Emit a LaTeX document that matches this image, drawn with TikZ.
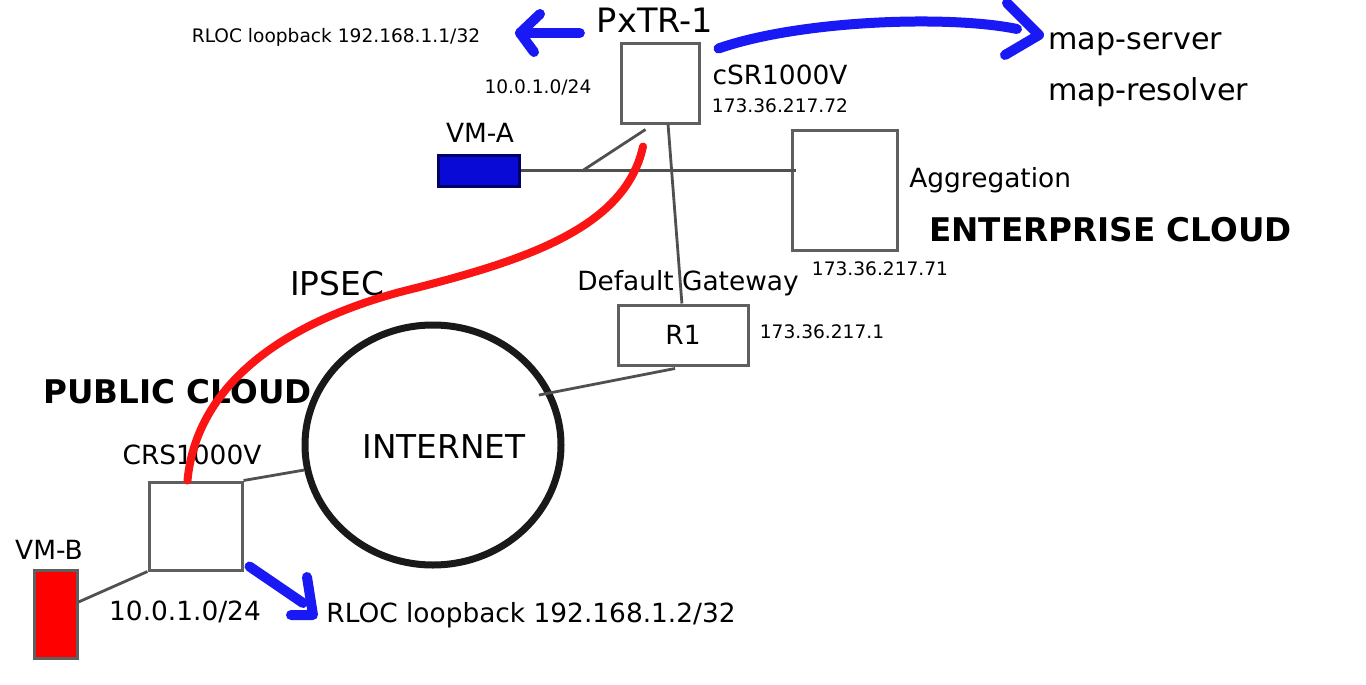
\documentclass[tikz,border=0pt]{standalone}
\usepackage{fontspec}
\setmainfont{DejaVu Sans}
\usetikzlibrary{shapes.geometric}

\definecolor{boxgray}{RGB}{95,95,95}
\definecolor{wiregray}{RGB}{80,80,80}
\definecolor{penblue}{RGB}{25,25,245}
\definecolor{penred}{RGB}{250,20,20}
\definecolor{vmablue}{RGB}{10,10,215}

\begin{document}
\begin{tikzpicture}[x=0.5pt, y=-0.5pt,
	box/.style={draw=boxgray, line width=1.5pt, inner sep=0pt},
	wire/.style={draw=wiregray, line width=1.4pt},
	bluepen/.style={draw=penblue, line width=5pt, line cap=round, line join=round},
	redpen/.style={draw=penred, line width=4pt, line cap=round},
	small/.style={font=\fontsize{9.3}{11}\selectfont},
	mid/.style={font=\fontsize{13.2}{15}\selectfont},
	big/.style={font=\fontsize{16.4}{19}\selectfont},
	heading/.style={font=\fontsize{16.3}{19}\selectfont\bfseries}]
	\useasboundingbox (0,0) rectangle (1366,685);

	% boxes
	\node[box, minimum width=39pt, minimum height=40pt] (pxtr) at (660,83) {};
	\node[box, fill=vmablue, draw=blue!40!black, minimum width=40.5pt, minimum height=15.5pt] (vma) at (478.5,170.5) {};
	\node[box, minimum width=52.5pt, minimum height=60pt] (agg) at (844.5,190) {};
	\node[box, mid, minimum width=65pt, minimum height=30pt] (r1) at (683,335) {R1};
	\node[box, minimum width=46.5pt, minimum height=44pt] (crs) at (195.5,526) {};
	\node[box, fill=red, minimum width=21.5pt, minimum height=44pt] (vmb) at (55.5,614) {};
	\node[ellipse, draw=black!90, line width=3.5pt, minimum width=128pt, minimum height=120pt] (inet) at (433,445) {};

	% labels
	\node[font=\fontsize{16.8}{19}\selectfont] (pxtrlbl) at (655,20) {PxTR-1};
	\node[small] (rloca) at (336,37) {RLOC loopback 192.168.1.1/32};
	\node[small] (neta) at (538,87) {10.0.1.0/24};
	\node[mid] (csrlbl) at (780,75) {cSR1000V};
	\foreach \n/\x/\y/\t in {ipc/780/106/173.36.217.72, ipagg/880/269/173.36.217.71, ipr/822/332/173.36.217.1} {
		\node[small] (\n) at (\x,\y) {\t};
	}
	\node[font=\fontsize{15.1}{18}\selectfont, anchor=west, inner sep=0pt] (mapsrv) at (1048,44) {map-server};
	\node[font=\fontsize{15.1}{18}\selectfont, anchor=west, inner sep=0pt] (mapres) at (1048,92) {map-resolver};
	\node[mid] (vmalbl) at (480,133) {VM-A};
	\node[mid, anchor=west, inner sep=0pt] (agglbl) at (909,180) {Aggregation};
	\node[heading, anchor=west, inner sep=0pt] (entcloud) at (929,230) {ENTERPRISE CLOUD};
	\node[mid] (dgw) at (688,283) {Default Gateway};
	\node[big] (inetlbl) at (444,447) {INTERNET};
	\node[heading, anchor=west, inner sep=0pt] (pubcloud) at (43,392) {PUBLIC CLOUD};
	\node[big] (ipsec) at (337,284) {IPSEC};
	\node[mid] (crslbl) at (192,455) {CRS1000V};
	\node[mid] (vmblbl) at (49,550) {VM-B};
	\node[mid] (netb) at (185,612) {10.0.1.0/24};
	\node[mid, anchor=west, inner sep=0pt] (rlocb) at (326,615) {RLOC loopback 192.168.1.2/32};

	% wires
	\coordinate (tap) at (582,171);
	\draw[wire] (vma.east) -- ([shift={(5,0)}]vma.east -| agg.west);
	\draw[wire] (tap) -- ([shift={(26,5)}]pxtr.south west);
	\draw[wire] (pxtr.-79) -- (r1.92);
	\draw[wire] ([shift={(-8,2)}]r1.south) -- ([shift={(-12,5)}]inet.25);
	\draw[wire] (crs.north east) -- (inet.191);
	\draw[wire] ([shift={(0,-12)}]vmb.east) -- (crs.south west);

	% IPSEC tunnel
	\draw[redpen] ([shift={(-17,22)}]pxtr.south) .. controls (625,230) and (520,262) .. (400,292)
		.. controls (260,330) and (195,400) .. ([shift={(-8,0)}]crs.north);

	% hand drawn arrows
	\coordinate (tipa) at (520,33);
	\coordinate (tipb) at (1039,35);
	\coordinate (tipc) at (313,615);
	\draw[bluepen] ([shift={(-10,13)}]pxtrlbl.west) -- (tipa);
	\draw[bluepen] ([shift={(20,-19)}]tipa) -- (tipa) -- ++(14,19);
	\draw[bluepen] ([shift={(18,7)}]pxtr.north east) .. controls (800,20) and (950,15) .. ([shift={(-22,-6)}]tipb);
	\draw[bluepen] ([shift={(-32,-32)}]tipb) -- (tipb) -- ++(-34,20);
	\draw[bluepen] ([shift={(6,-5)}]crs.south east) -- ([shift={(-10,-12)}]tipc);
	\draw[bluepen] ([shift={(-6,-38)}]tipc) -- (tipc) -- ++(-22,0);
\end{tikzpicture}
\end{document}
